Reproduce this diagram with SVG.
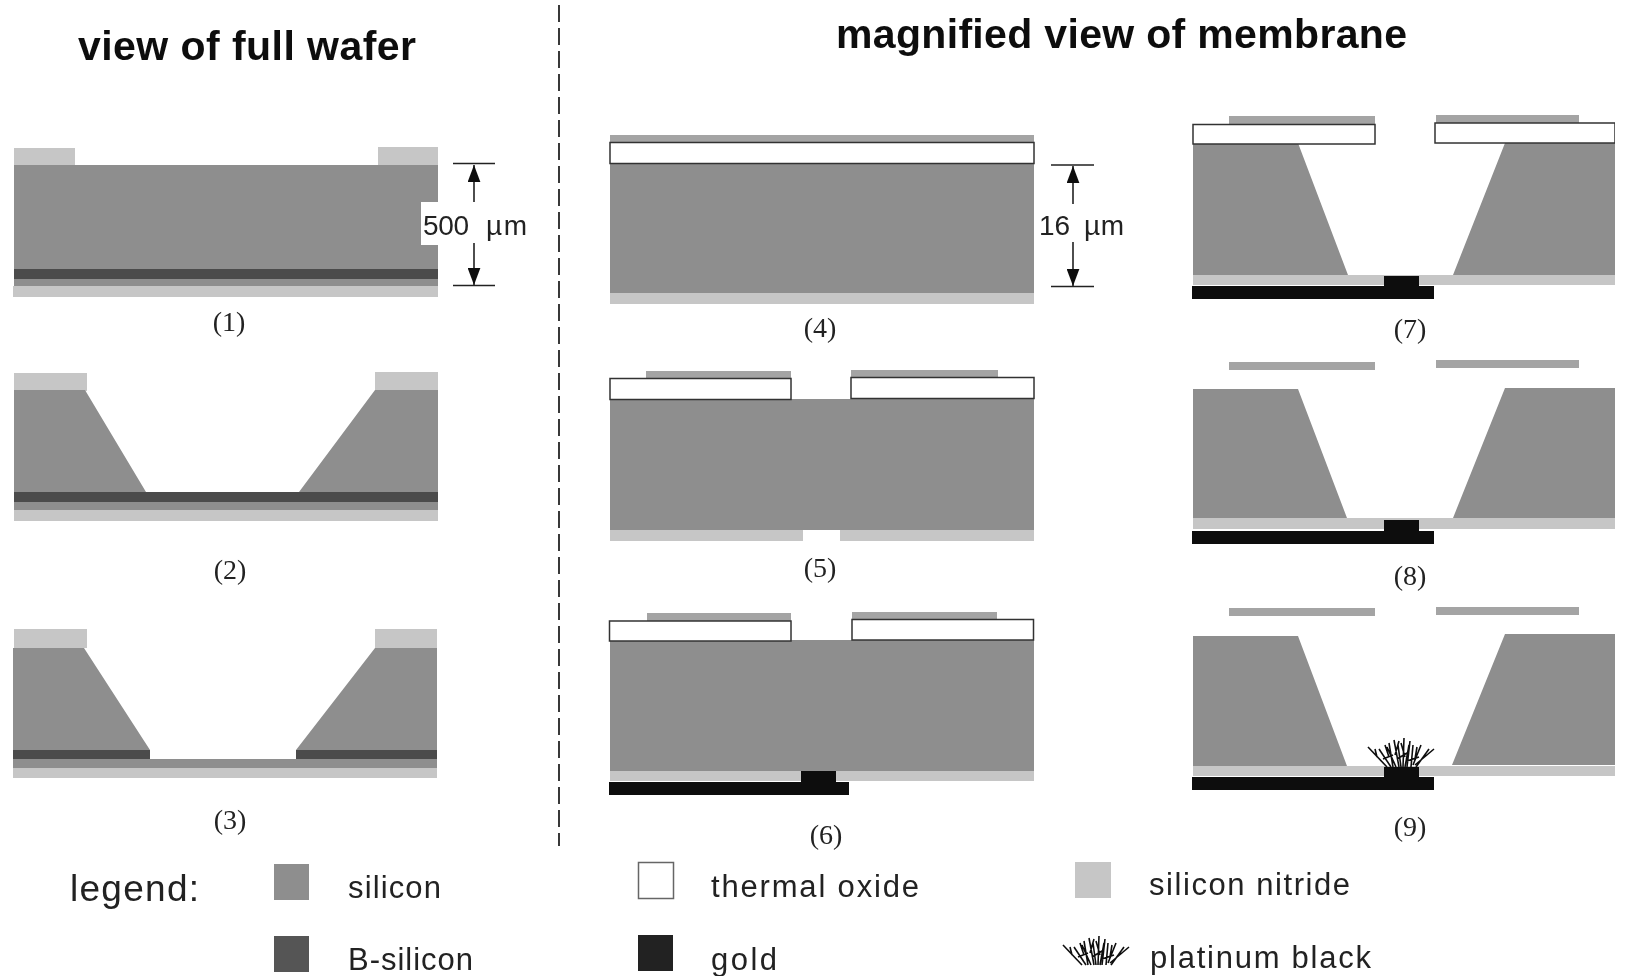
<svg xmlns="http://www.w3.org/2000/svg" xmlns:xlink="http://www.w3.org/1999/xlink" width="1628" height="976" viewBox="0 0 1628 976">
<style>
.si{fill:#8e8e8e}.bs{fill:#4b4b4b}.ni{fill:#c6c6c6}.tn{fill:#a4a4a4}.au{fill:#111}
.ox{fill:#fff;stroke:#333;stroke-width:1.5}
.dim{stroke:#222;stroke-width:1.6;fill:none}
.t{font-family:"Liberation Sans",Arial,sans-serif;fill:#222}
.h{font-size:41px;font-weight:bold;fill:#111}
.l{font-size:31px}
.d{font-size:28px}
.n{font-family:"Liberation Serif","Times New Roman",serif;font-size:28px;fill:#222;text-anchor:middle}
.pt{stroke:#111;stroke-width:1.6;fill:none}
</style>
<defs>
<filter id="soft" x="0" y="0" width="100%" height="100%"><feGaussianBlur stdDeviation="0.65"/></filter>
<marker id="arr" viewBox="0 0 16 12" refX="16" refY="6" markerWidth="17" markerHeight="13" orient="auto" markerUnits="userSpaceOnUse"><path d="M0,0L16,6L0,12Z" fill="#111"/></marker>
<g id="platinum">
<path class="pt" d="M-14,0L-33,-20M-24,-10L-26,-18M-10,0L-22,-18M-8,0L-12,-24M-5,0L-14,-20M-2,0L-7,-27M0,0L-3,-22M2,0L3,-29M4,0L8,-22M6,0L9,-26M10,0L12,-22M12,-2L20,-22M15,0L28,-18M14,-2L33,-18M-18,-8L-8,-12M-4,-8L6,-14M6,-6L18,-10M-12,-10L-16,-22M-6,-12L-2,-26M4,-10L0,-24M14,-8L16,-20"/>
</g>
</defs>
<rect width="1628" height="976" fill="#fff"/>
<g filter="url(#soft)">
<g id="titles">
<text class="t h" x="78" y="60" textLength="338" lengthAdjust="spacing">view of full wafer</text>
<text class="t h" x="836" y="48" textLength="571" lengthAdjust="spacing">magnified view of membrane</text>
</g>
<g id="panel1">
<rect class="ni" x="14" y="148" width="61" height="18"/><rect class="ni" x="378" y="147" width="60" height="19"/>
<rect class="si" x="14" y="165" width="424" height="104"/>
<rect class="bs" x="14" y="269" width="424" height="10"/>
<rect class="si" x="14" y="279" width="424" height="7"/>
<rect class="ni" x="13" y="286" width="425" height="11"/>
<rect x="421" y="202" width="18" height="43" fill="#fff"/>
<text class="n" x="229" y="331">(1)</text>
</g>
<g id="panel2">
<rect class="ni" x="14" y="373" width="73" height="18"/><rect class="ni" x="375" y="372" width="63" height="18"/>
<path class="si" d="M14,390H85L146,492H14ZM375,390H438V492H299Z"/>
<rect class="bs" x="14" y="492" width="424" height="10"/>
<rect class="si" x="14" y="502" width="424" height="8"/>
<rect class="ni" x="14" y="510" width="424" height="11"/>
<text class="n" x="230" y="579">(2)</text>
</g>
<g id="panel3">
<rect class="ni" x="14" y="629" width="73" height="19"/><rect class="ni" x="375" y="629" width="62" height="19"/>
<path class="si" d="M13,648H84L150,750H13ZM375,648H437V750H296Z"/>
<path class="bs" d="M13,750H150V759H13ZM296,750H437V759H296Z"/>
<rect class="si" x="13" y="759" width="424" height="9"/>
<rect class="ni" x="13" y="768" width="424" height="10"/>
<text class="n" x="230" y="829">(3)</text>
</g>
<g id="panel4">
<rect class="tn" x="610" y="135" width="424" height="8"/>
<rect class="si" x="610" y="163" width="424" height="131"/>
<rect class="ox" x="610" y="142.500" width="424" height="21"/>
<rect class="ni" x="610" y="293" width="424" height="11"/>
<text class="n" x="820" y="337">(4)</text>
</g>
<g id="panel5">
<rect class="tn" x="646" y="371" width="145" height="8"/><rect class="tn" x="851" y="370" width="147" height="8"/>
<rect class="si" x="610" y="399" width="424" height="131"/>
<rect class="ox" x="610" y="378.500" width="181" height="21"/><rect class="ox" x="851" y="377.500" width="183" height="21"/>
<path class="ni" d="M610,530H803V541H610ZM840,530H1034V541H840Z"/>
<text class="n" x="820" y="577">(5)</text>
</g>
<g id="panel6">
<rect class="tn" x="647" y="613" width="144" height="8"/><rect class="tn" x="852" y="612" width="145" height="8"/>
<rect class="si" x="610" y="640" width="424" height="131"/>
<rect class="ox" x="609.500" y="621" width="181.500" height="20"/><rect class="ox" x="852" y="619.500" width="181.500" height="20.500"/>
<rect class="ni" x="610" y="771" width="424" height="10"/>
<rect class="au" x="801" y="771" width="35" height="12"/>
<rect class="au" x="609" y="782" width="240" height="13"/>
<text class="n" x="826" y="844">(6)</text>
</g>
<g id="panel7">
<rect class="tn" x="1229" y="116" width="146" height="8"/><rect class="tn" x="1436" y="115" width="143" height="8"/>
<path class="si" d="M1193,143H1298L1348,275H1193ZM1505,143H1615V275H1453Z"/>
<rect class="ox" x="1193" y="124.500" width="182" height="19.500"/><rect class="ox" x="1435" y="123" width="180" height="20"/>
<rect class="ni" x="1193" y="275" width="422" height="10"/>
<rect class="au" x="1384" y="276" width="35" height="11"/>
<rect class="au" x="1192" y="286" width="242" height="13"/>
<text class="n" x="1410" y="338">(7)</text>
</g>
<g id="panel8">
<rect class="tn" x="1229" y="362" width="146" height="8"/><rect class="tn" x="1436" y="360" width="143" height="8"/>
<path class="si" d="M1193,389H1298L1347,518H1193ZM1505,388H1615V518H1453Z"/>
<rect class="ni" x="1193" y="518" width="422" height="11"/>
<rect class="au" x="1384" y="520" width="35" height="12"/>
<rect class="au" x="1192" y="531" width="242" height="13"/>
<text class="n" x="1410" y="585">(8)</text>
</g>
<g id="panel9">
<rect class="tn" x="1229" y="608" width="146" height="8"/><rect class="tn" x="1436" y="607" width="143" height="8"/>
<path class="si" d="M1193,636H1298L1347,766H1193ZM1505,634H1615V765H1452Z"/>
<rect class="ni" x="1193" y="766" width="422" height="10"/>
<rect class="au" x="1384" y="767" width="35" height="11"/>
<rect class="au" x="1192" y="777" width="242" height="13"/>
<use xlink:href="#platinum" href="#platinum" x="1401" y="767"/>
<text class="n" x="1410" y="836">(9)</text>
</g>
<g id="connectors">
<path d="M559,5V846" stroke="#222" stroke-width="1.8" stroke-dasharray="17 6" fill="none"/>
<path class="dim" d="M453,163.500H495M453,285.500H495"/>
<path class="dim" d="M474,202V165" marker-end="url(#arr)"/>
<path class="dim" d="M474,243V285" marker-end="url(#arr)"/>
<path class="dim" d="M1051,165H1094M1051,286.500H1094"/>
<path class="dim" d="M1073,204V166" marker-end="url(#arr)"/>
<path class="dim" d="M1073,242V286" marker-end="url(#arr)"/>
</g>
<g id="dimension-labels">
<text class="t d" x="423" y="235" textLength="46" lengthAdjust="spacing">500</text>
<text class="t d" x="486" y="235" textLength="41" lengthAdjust="spacing">µm</text>
<text class="t d" x="1039" y="235" textLength="31" lengthAdjust="spacing">16</text>
<text class="t d" x="1084" y="235" textLength="40" lengthAdjust="spacing">µm</text>
</g>
<g id="legend">
<text class="t" x="70" y="901" font-size="37" textLength="129" lengthAdjust="spacing">legend:</text>
<g id="legend-silicon"><rect class="si" x="274" y="864" width="35" height="36"/><text class="t l" x="348" y="898" textLength="93" lengthAdjust="spacing">silicon</text></g>
<g id="legend-bsilicon"><rect x="274" y="936" width="35" height="36" fill="#555"/><text class="t l" x="348" y="970" textLength="125" lengthAdjust="spacing">B-silicon</text></g>
<g id="legend-oxide"><rect class="ox" x="638.500" y="862.500" width="35" height="36" style="stroke:#666"/><text class="t l" x="711" y="897" textLength="208" lengthAdjust="spacing">thermal oxide</text></g>
<g id="legend-gold"><rect fill="#222" x="638" y="935" width="35" height="36"/><text class="t l" x="711" y="970" textLength="66" lengthAdjust="spacing">gold</text></g>
<g id="legend-nitride"><rect class="ni" x="1075" y="862" width="36" height="36"/><text class="t l" x="1149" y="895" textLength="201" lengthAdjust="spacing">silicon nitride</text></g>
<g id="legend-platinum"><use xlink:href="#platinum" href="#platinum" x="1096" y="965"/><text class="t l" x="1150" y="968" textLength="221" lengthAdjust="spacing">platinum black</text></g>
</g>
</g>
</svg>
